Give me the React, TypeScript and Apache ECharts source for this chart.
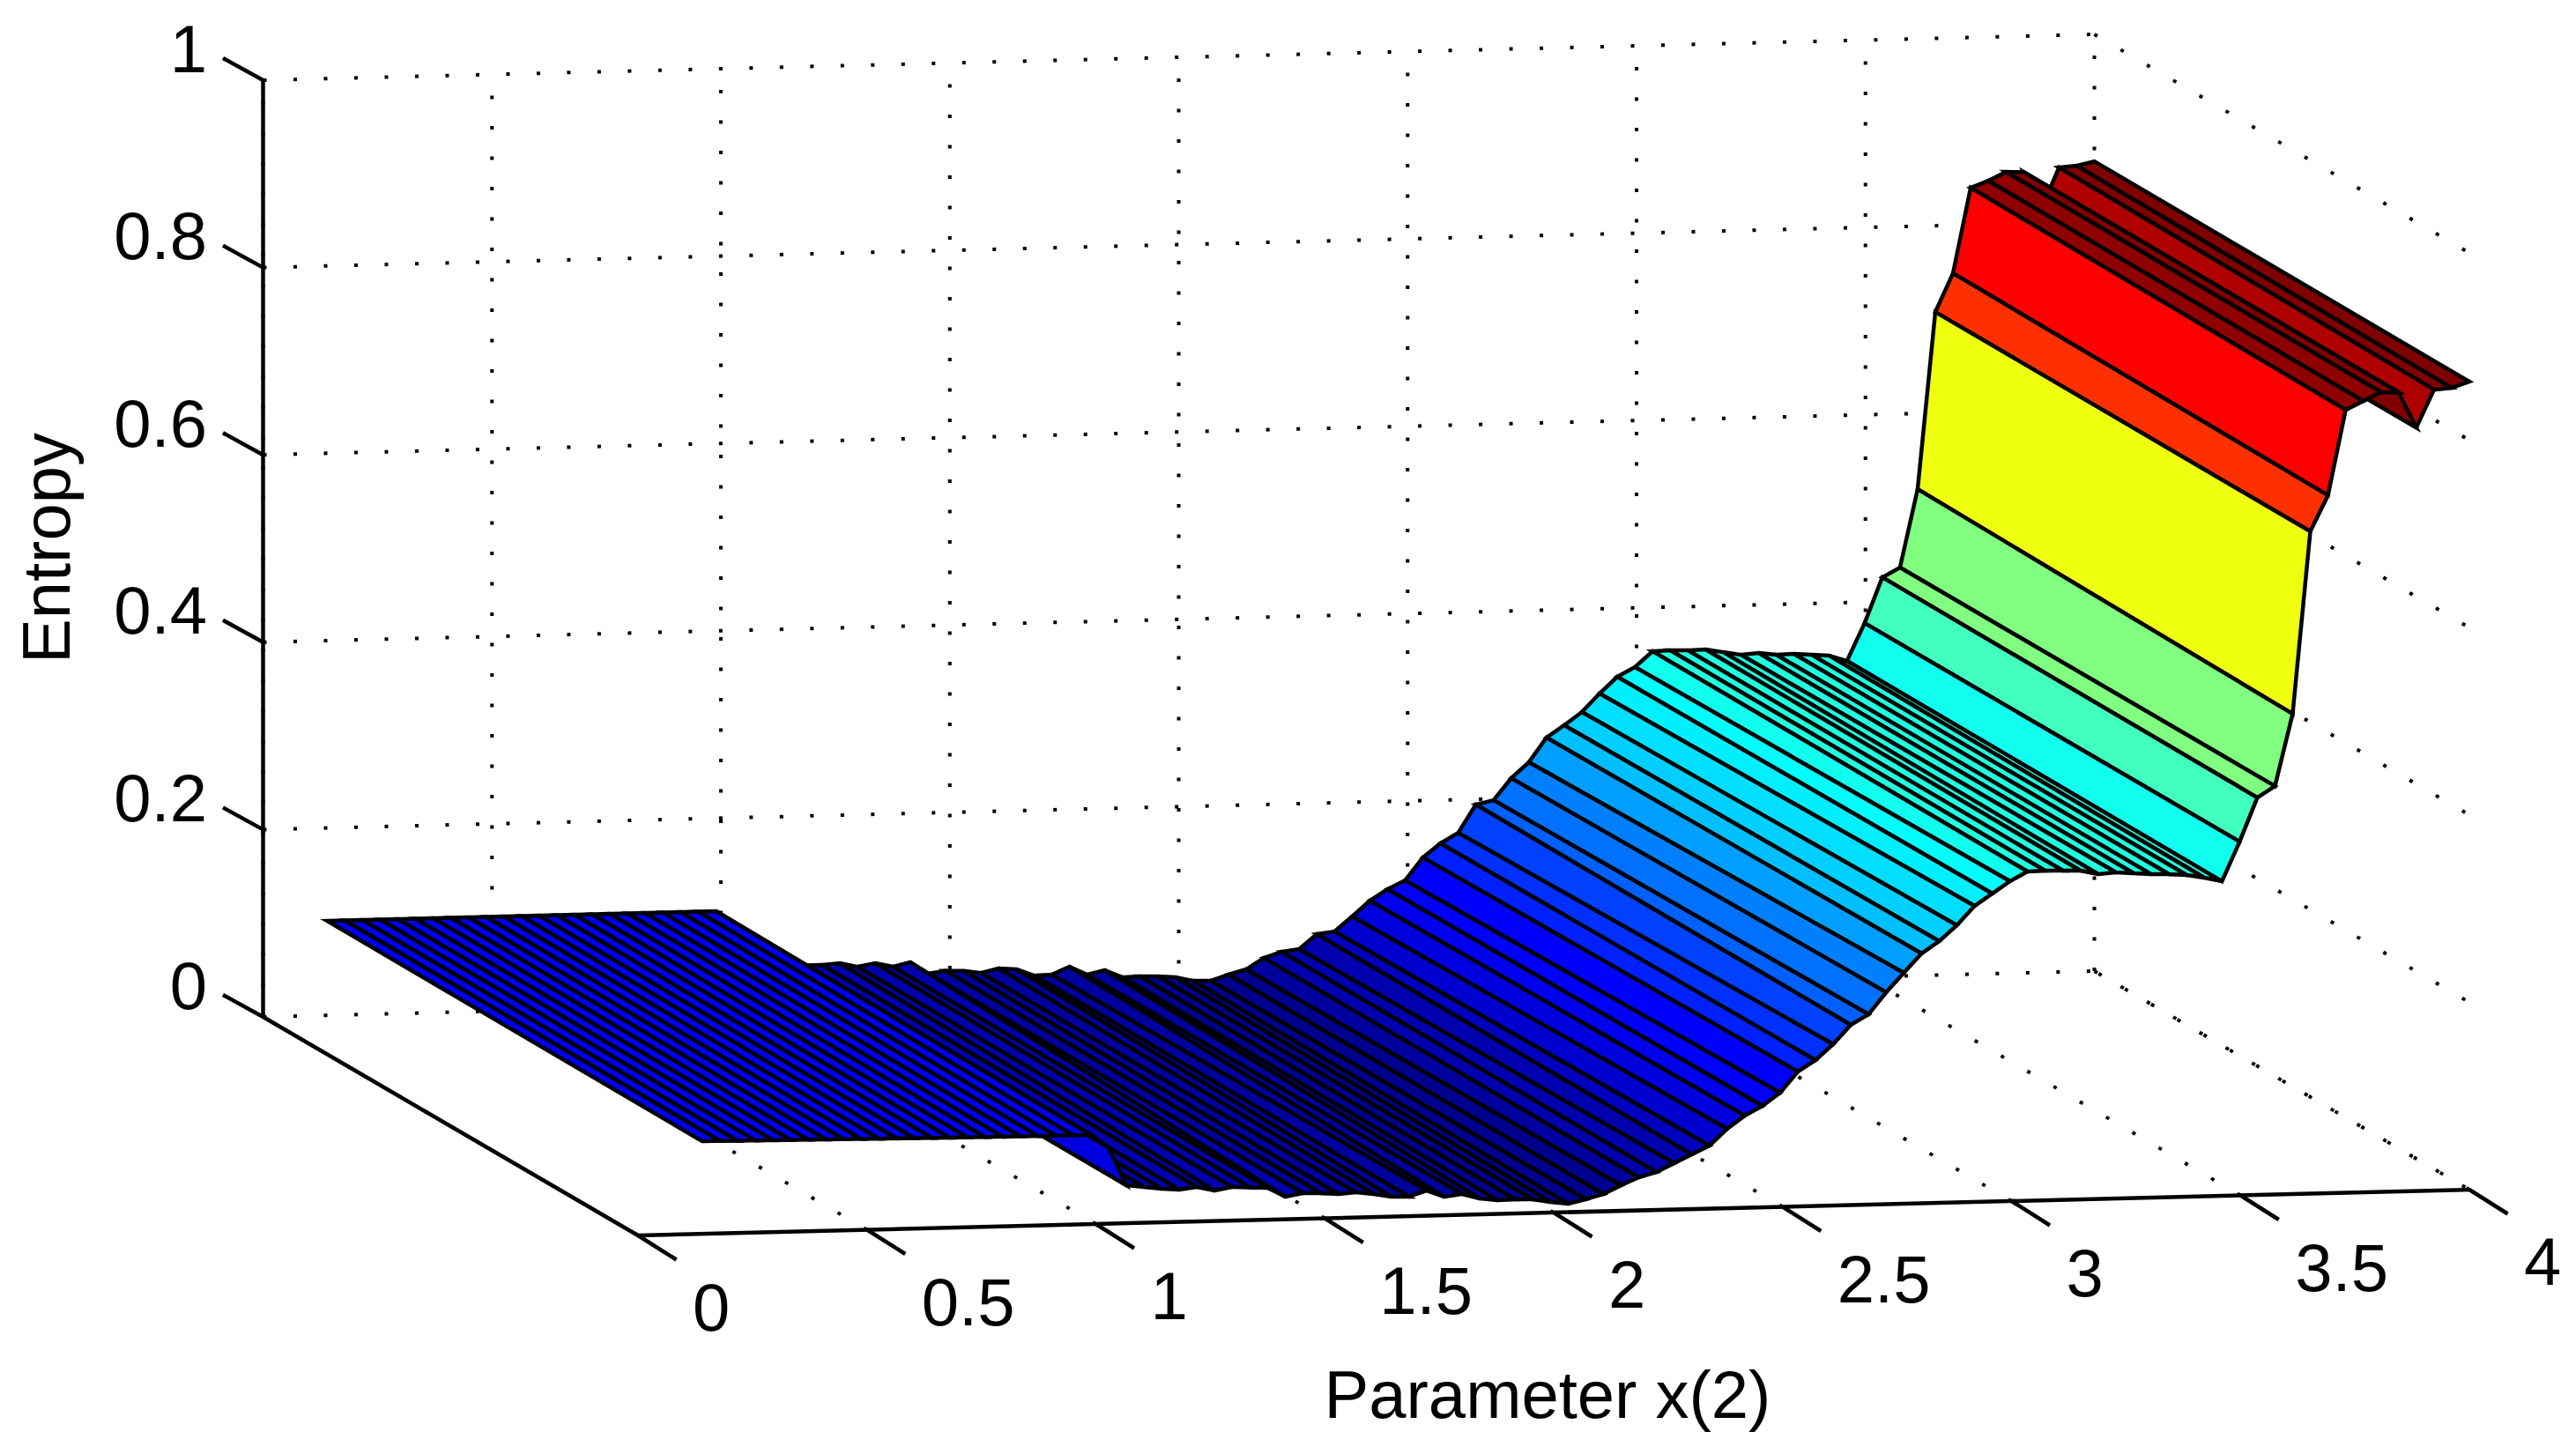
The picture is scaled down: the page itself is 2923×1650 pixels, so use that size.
import React, { useEffect, useRef } from "react";
import * as echarts from "echarts";

const xNodes = [
  0.14, 0.1786, 0.2172, 0.2558, 0.2944, 0.333, 0.3716, 0.4102, 0.4488, 0.4874,
  0.526, 0.5646, 0.6032, 0.6418, 0.6804, 0.719, 0.7576, 0.7962, 0.8348, 0.8734,
  0.912, 0.9506, 0.9892, 1.0278, 1.0664, 1.105, 1.1436, 1.1822, 1.2208, 1.2594,
  1.298, 1.3366, 1.3752, 1.4138, 1.4524, 1.491, 1.5296, 1.5682, 1.6068, 1.6454,
  1.684, 1.7226, 1.7612, 1.7998, 1.8384, 1.877, 1.9156, 1.9542, 1.9928, 2.0314,
  2.07, 2.1086, 2.1472, 2.1858, 2.2244, 2.263, 2.3016, 2.3402, 2.3788, 2.4174,
  2.456, 2.4946, 2.5332, 2.5718, 2.6104, 2.649, 2.6876, 2.7262, 2.7648, 2.8034,
  2.842, 2.8806, 2.9192, 2.9578, 2.9964, 3.035, 3.0736, 3.1122, 3.1508, 3.1894,
  3.228, 3.2666, 3.3052, 3.3438, 3.3824, 3.421, 3.4596, 3.4982, 3.5368, 3.5754,
  3.614, 3.6526, 3.6912, 3.7298, 3.7684, 3.807, 3.8456, 3.8842, 3.9228, 3.9614,
  4.0,
];

// Entropy along the far edge of the surface
const zBack = [
  0.1008, 0.1008, 0.1008, 0.1008, 0.1008, 0.1008, 0.1008, 0.1008, 0.1008, 0.1008,
  0.1008, 0.1008, 0.1008, 0.1008, 0.1008, 0.1008, 0.1008, 0.1008, 0.1008, 0.1008,
  0.1008, 0.1008, 0.1008, 0.0815, 0.042, 0.0405, 0.0405, 0.0405, 0.0406, 0.042,
  0.0377, 0.041, 0.0368, 0.041, 0.0283, 0.031, 0.0305, 0.0278, 0.0321, 0.0307,
  0.0236, 0.0241, 0.0321, 0.0231, 0.0274, 0.0194, 0.0198, 0.0194, 0.018, 0.0137,
  0.0133, 0.0194, 0.0245, 0.0362, 0.0423, 0.0447, 0.0602, 0.0626, 0.0781, 0.0945,
  0.1063, 0.1152, 0.1392, 0.1538, 0.1646, 0.1943, 0.1985, 0.2215, 0.238, 0.2639,
  0.2766, 0.2902, 0.3095, 0.3269, 0.3368, 0.3532, 0.3537, 0.3532, 0.3537, 0.3504,
  0.3471, 0.3485, 0.3462, 0.3467, 0.3452, 0.3438, 0.3377, 0.3776, 0.426, 0.436,
  0.5192, 0.7078, 0.7487, 0.8395, 0.8466, 0.8555, 0.855, 0.815, 0.8588, 0.8602,
  0.8644,
];

// Entropy along the near edge of the surface
const zFront = [
  0.099, 0.0988, 0.0985, 0.0983, 0.0981, 0.0979, 0.0977, 0.0975, 0.0973, 0.0971,
  0.0969, 0.0967, 0.0965, 0.0963, 0.0961, 0.096, 0.0958, 0.0957, 0.0956, 0.0955,
  0.0954, 0.0953, 0.0952, 0.0815, 0.0406, 0.0382, 0.0358, 0.0344, 0.0368, 0.0325,
  0.0358, 0.0349, 0.034, 0.0241, 0.0274, 0.0269, 0.0255, 0.0269, 0.0246, 0.0213,
  0.0208, 0.0269, 0.0198, 0.0222, 0.017, 0.0147, 0.0151, 0.0147, 0.0114, 0.009,
  0.0133, 0.0184, 0.0273, 0.0353, 0.0405, 0.0494, 0.0583, 0.0673, 0.0847, 0.0983,
  0.1082, 0.1218, 0.1439, 0.1557, 0.1722, 0.1924, 0.2032, 0.2262, 0.2465, 0.2667,
  0.2794, 0.2959, 0.3161, 0.3288, 0.3415, 0.3514, 0.3518, 0.3514, 0.3509, 0.3467,
  0.3481, 0.3467, 0.3452, 0.3448, 0.3434, 0.3401, 0.3358, 0.3776, 0.4242, 0.4359,
  0.5126, 0.7069, 0.745, 0.8357, 0.8447, 0.8536, 0.8531, 0.815, 0.855, 0.8564,
  0.8626,
];

const xTicks = [0, 0.5, 1, 1.5, 2, 2.5, 3, 3.5, 4];
const xTickLabels = ["0", "0.5", "1", "1.5", "2", "2.5", "3", "3.5", "4"];
const zTicks = [0, 0.2, 0.4, 0.6, 0.8, 1];
const zTickLabels = ["0", "0.2", "0.4", "0.6", "0.8", "1"];
const xTitle = "Parameter x(2)";
const zTitle = "Entropy";

// Oblique projection of the 3D box onto the hidden page-sized axes
const project = (x: number, t: number, z: number): number[] => [
  724 + 519.5 * x - 425.5 * t,
  1402 - 13 * x - 248 * t - 1063 * z,
];

// MATLAB jet colormap, 64 levels
const jet = (value: number): string => {
  const i = Math.min(63, Math.max(0, Math.floor(value * 64)));
  const v = (i + 1) / 64;
  const c = (a: number) => Math.round(255 * Math.max(0, Math.min(1, a)));
  const r = c(Math.min(4 * v - 1.5, -4 * v + 4.5));
  const g = c(Math.min(4 * v - 0.5, -4 * v + 3.5));
  const b = c(Math.min(4 * v + 0.5, -4 * v + 2.5));
  return `rgb(${r},${g},${b})`;
};

const FONT = "Liberation Sans";
const FONT_SIZE = 76;

const lineSeries = (rows: number[][], style: any) => ({
  type: "custom",
  coordinateSystem: "cartesian2d",
  silent: true,
  progressive: 0,
  data: rows,
  renderItem: (_p: any, api: any) => {
    const a = api.coord(project(api.value(0), api.value(1), api.value(2)));
    const b = api.coord(project(api.value(3), api.value(4), api.value(5)));
    let dx = 0;
    let dy = 0;
    const ox = api.value(6);
    const oy = api.value(7);
    if (ox || oy) {
      dx = ox;
      dy = oy;
    }
    return {
      type: "line",
      shape: { x1: a[0], y1: a[1], x2: b[0] + dx, y2: b[1] + dy },
      style: { stroke: "#000", fill: null, ...style },
    };
  },
});

const buildOption = () => {
  const all = zBack.concat(zFront);
  const zMin = Math.min(...all);
  const zMax = Math.max(...all);

  // far strips first, so that nearer strips hide them
  const strips: number[][] = [];
  for (let k = xNodes.length - 2; k >= 0; k--) {
    strips.push([xNodes[k], xNodes[k + 1], zFront[k], zFront[k + 1], zBack[k], zBack[k + 1]]);
  }

  const dotted: number[][] = [];
  xTicks.forEach((x) => dotted.push([x, 1, 0, x, 1, 1])); // back wall, vertical
  zTicks.forEach((z) => dotted.push([0, 1, z, 4, 1, z])); // back wall, horizontal
  zTicks.forEach((z) => dotted.push([4, 1, z, 4, 0, z])); // right wall
  xTicks.forEach((x) => dotted.push([x, 0, 0, x, 1, 0])); // floor

  const axes: number[][] = [
    [0, 1, 0, 0, 1, 1],
    [0, 1, 0, 0, 0, 0],
    [0, 0, 0, 4, 0, 0],
  ];

  const xTickRows = xTicks.map((x) => [x, 0, 0, x, 0, 0, 43.5, 27.5]);
  const zTickRows = zTicks.map((z) => [0, 1, z, 0, 1, z, -45.5, -25]);

  const labelRows = [
    ...xTicks.map((x, i) => ({ value: project(x, 0, 0), name: xTickLabels[i], kind: "x" })),
    ...zTicks.map((z, i) => ({ value: project(0, 1, z), name: zTickLabels[i], kind: "z" })),
  ];

  return {
    animation: false,
    backgroundColor: "#ffffff",
    grid: { left: 0, right: 0, top: 0, bottom: 0 },
    xAxis: { type: "value", min: 0, max: 2923, show: false },
    yAxis: { type: "value", min: 0, max: 1650, inverse: true, show: false },
    series: [
      lineSeries(dotted, { lineWidth: 4, lineDash: [4, 30.5] }),
      lineSeries(axes, { lineWidth: 4.5 }),
      lineSeries(xTickRows, { lineWidth: 4.5 }),
      lineSeries(zTickRows, { lineWidth: 4.5 }),
      {
        type: "custom",
        coordinateSystem: "cartesian2d",
        silent: true,
        progressive: 0,
        data: strips,
        renderItem: (_p: any, api: any) => {
          const x0 = api.value(0);
          const x1 = api.value(1);
          const f0 = api.value(2);
          const f1 = api.value(3);
          const b0 = api.value(4);
          const b1 = api.value(5);
          const pts = [
            project(x0, 0, f0),
            project(x1, 0, f1),
            project(x1, 1, b1),
            project(x0, 1, b0),
          ].map((p) => api.coord(p));
          const level = (b0 - zMin) / (zMax - zMin);
          return {
            type: "polygon",
            shape: { points: pts },
            style: {
              fill: jet(level),
              stroke: "#000",
              lineWidth: 4.5,
              lineJoin: "miter",
            },
          };
        },
      },
      {
        type: "custom",
        coordinateSystem: "cartesian2d",
        silent: true,
        progressive: 0,
        data: labelRows,
        renderItem: (p: any, api: any) => {
          const row = labelRows[p.dataIndex];
          const c = api.coord(row.value);
          const isX = row.kind === "x";
          return {
            type: "text",
            x: isX ? c[0] + 62 : 235,
            y: isX ? c[1] + 81.5 : c[1] - 36,
            style: {
              text: row.name,
              fill: "#000",
              fontFamily: FONT,
              fontSize: FONT_SIZE,
              align: isX ? "left" : "right",
              verticalAlign: "middle",
            },
          };
        },
      },
    ],
    graphic: [
      {
        type: "text",
        x: 1756,
        y: 1582,
        style: {
          text: xTitle,
          fill: "#000",
          fontFamily: FONT,
          fontSize: FONT_SIZE,
          align: "center",
          verticalAlign: "middle",
        },
      },
      {
        type: "text",
        x: 52,
        y: 622,
        rotation: Math.PI / 2,
        style: {
          text: zTitle,
          fill: "#000",
          fontFamily: FONT,
          fontSize: FONT_SIZE,
          align: "center",
          verticalAlign: "middle",
        },
      },
    ],
  };
};

export default function App() {
  const ref = useRef<HTMLDivElement>(null);
  useEffect(() => {
    const chart = echarts.init(ref.current!, undefined, { renderer: "svg" });
    chart.setOption(buildOption() as any);
    return () => chart.dispose();
  }, []);
  return (
    <div
      ref={ref}
      style={{ position: "absolute", left: 0, top: 0, width: 2923, height: 1650 }}
    />
  );
}
